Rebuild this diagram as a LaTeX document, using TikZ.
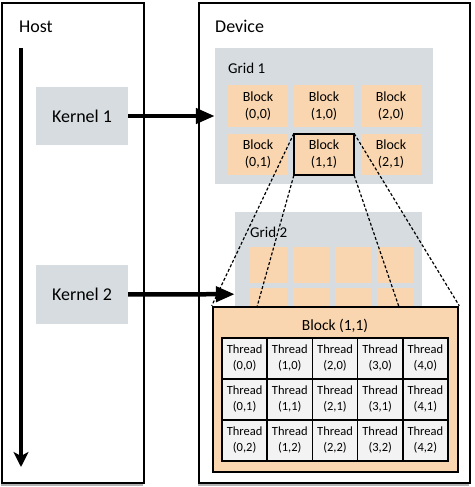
\documentclass[tikz,border=0pt]{standalone}
\usepackage{fontspec}
\setmainfont{Carlito}
\usepackage{xcolor}
\usepackage{tikz}
\usetikzlibrary{arrows.meta}
\definecolor{panelgray}{HTML}{D6DCE0}
\definecolor{blockorange}{HTML}{FAD6B0}
\definecolor{threadgray}{HTML}{F3F3F3}
\tikzset{
    frame/.style={draw=black, line width=1.5pt, fill=white, inner sep=0pt},
    panel/.style={fill=panelgray, inner sep=0pt},
    title/.style={anchor=base west, inner sep=0pt},
    blk/.style={fill=blockorange, inner sep=0pt, align=center, font=\fontsize{14}{17}\selectfont},
    thr/.style={draw=black, line width=1.6pt, fill=threadgray, inner sep=0pt, align=center,
        minimum width=45.2pt, minimum height=41pt, font=\fontsize{12.5}{16}\selectfont},
    zoomline/.style={dash pattern=on 3pt off 2pt, line width=1.2pt},
    bigarrow/.style={line width=4.5pt, -{Triangle[length=19pt,width=15pt]}}}

\begin{document}
\begin{tikzpicture}[x=1pt, y=-1pt]

                    \useasboundingbox (0,0) rectangle (474,487);

                    \fill[gray!60] (0.5,5.5) rectangle (142.5,486);
                    \fill[gray!60] (197.5,5.5) rectangle (468.5,486);
                    \node[frame, minimum width=142pt, minimum height=480pt] (H) at (73,243) {};
                    \node[frame, minimum width=271pt, minimum height=480pt] (D) at (334.5,243) {};
                    \node[title, font=\fontsize{18}{20}\selectfont] (HL) at (19,33) {Host};
                    \node[title, font=\fontsize{18}{20}\selectfont] (DL) at (215,33) {Device};

                    % time line of the host
                    \coordinate (S0) at (21,48);
                    \coordinate (S1) at (21,467);
                    \draw[line width=3.5pt, -{Stealth[length=15pt,width=15pt,inset=4pt]}] (S0) -- (S1);

                    \node[panel, minimum width=92pt, minimum height=58pt, font=\fontsize{18}{20}\selectfont] (K1) at (82,116) {Kernel 1};
                    \node[panel, minimum width=92pt, minimum height=59pt, font=\fontsize{18}{20}\selectfont] (K2) at (82,294.5) {Kernel 2};

                    % grid 1
                    \node[panel, minimum width=218pt, minimum height=136pt] (G1) at (324,116) {};
                    \node[title, font=\fontsize{15}{17}\selectfont] (G1L) at (228,74) {Grid 1};
                    \foreach \i/\x in {0/258,1/324,2/391}
                        \foreach \j/\y in {0/106,1/154.5}
                            \node[blk, minimum width=60pt, minimum height=41.5pt] (B\i\j) at (\x,\y) {Block\\(\i,\j)};
                    \draw[line width=2pt] (B11.south west) rectangle (B11.north east);

                    % grid 2
                    \node[panel, minimum width=187pt, minimum height=164pt] (G2) at (328.5,294) {};
                    \node[title, font=\fontsize{15}{17}\selectfont] (G2L) at (250,237) {Grid 2};
                    \foreach \x [count=\i] in {268.5,311,353,395}
                        \foreach \y [count=\j] in {265,306}
                            \node[blk, minimum width=36.5pt, minimum height=36pt] (C\i\j) at (\x,\y) {};

                    % block (1,1) and its threads
                    \node[fill=blockorange, draw=black, line width=2.5pt, inner sep=0pt, minimum width=245pt, minimum height=165pt] (B) at (335.5,389.5) {};
                    \node[anchor=base, inner sep=0pt, font=\fontsize{15.5}{18}\selectfont] (BL) at (335,330) {Block (1,1)};
                    \foreach \i in {0,...,4}
                        \foreach \j in {0,1,2}
                            \node[thr] (T\i\j) at ({244.6+45.2*\i},{358.5+41*\j}) {Thread\\(\i,\j)};

                    \coordinate (Z1) at (257,307);
                    \coordinate (Z2) at (399,307);
                    \draw[zoomline] (B11.north west) -- (B.north west);
                    \draw[zoomline] (B11.south west) -- (Z1);
                    \draw[zoomline] (B11.south east) -- (Z2);
                    \draw[zoomline] (B11.north east) -- (B.north east);

                    \draw[bigarrow] (K1) -- (G1);
                    \draw[bigarrow] (K2) -- (G2);

                \end{tikzpicture}
\end{document}
